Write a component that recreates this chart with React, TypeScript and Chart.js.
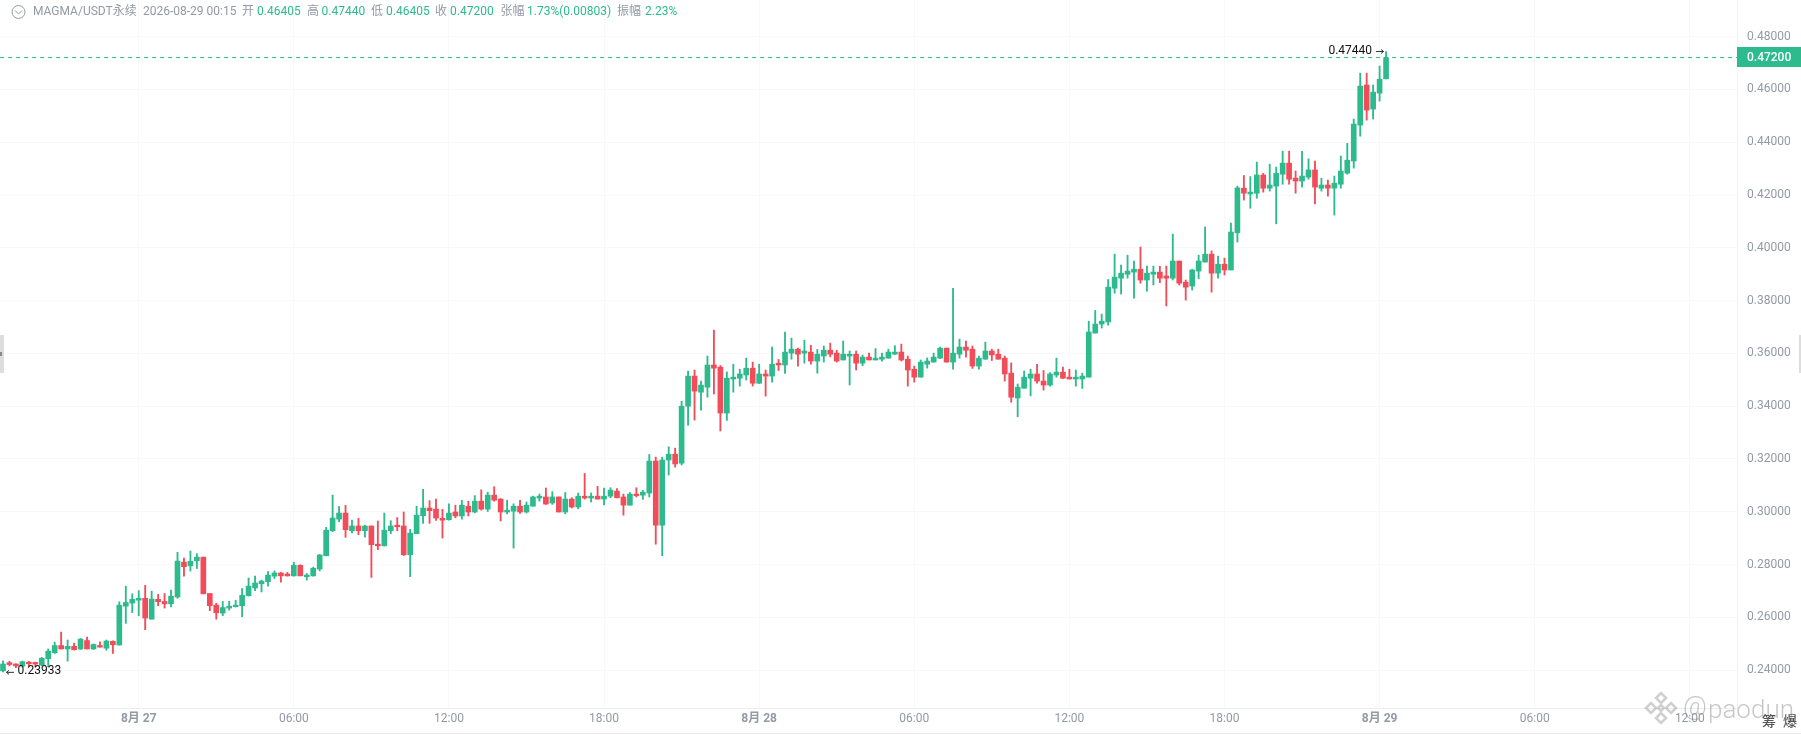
import React, { useEffect, useRef } from "react";
import { Chart, registerables } from "chart.js";

Chart.register(...registerables);

const opens = [
  0.2397,0.2428,0.2423,0.2415,0.2430,0.2429,0.2419,0.2443,0.2466,0.2493,
  0.2480,0.2490,0.2480,0.2512,0.2480,0.2493,0.2483,0.2509,0.2495,0.2642,
  0.2654,0.2665,0.2672,0.2593,0.2668,0.2660,0.2651,0.2677,0.2809,0.2795,
  0.2814,0.2828,0.2690,0.2646,0.2616,0.2635,0.2640,0.2644,0.2682,0.2711,
  0.2727,0.2735,0.2756,0.2768,0.2764,0.2757,0.2797,0.2754,0.2757,0.2783,
  0.2833,0.2928,0.2972,0.2995,0.2928,0.2946,0.2928,0.2946,0.2877,0.2871,
  0.2928,0.2949,0.2946,0.2837,0.2917,0.2985,0.3014,0.3010,0.2975,0.2970,
  0.2999,0.2984,0.3021,0.2999,0.3040,0.3010,0.3063,0.3048,0.2999,0.3002,
  0.3021,0.2999,0.3021,0.3052,0.3056,0.3033,0.3056,0.2999,0.3048,0.3018,
  0.3059,0.3052,0.3059,0.3048,0.3059,0.3078,0.3056,0.3025,0.3067,0.3063,
  0.3071,0.3192,0.2949,0.3196,0.3218,0.3184,0.3400,0.3514,0.3453,0.3472,
  0.3556,0.3548,0.3374,0.3503,0.3506,0.3518,0.3544,0.3487,0.3522,0.3514,
  0.3563,0.3556,0.3601,0.3616,0.3601,0.3605,0.3571,0.3590,0.3612,0.3601,
  0.3575,0.3590,0.3597,0.3563,0.3586,0.3575,0.3578,0.3582,0.3597,0.3605,
  0.3578,0.3540,0.3510,0.3559,0.3567,0.3582,0.3620,0.3567,0.3597,0.3624,
  0.3616,0.3552,0.3578,0.3609,0.3597,0.3582,0.3525,0.3431,0.3468,0.3506,
  0.3522,0.3495,0.3480,0.3518,0.3529,0.3510,0.3503,0.3503,0.3510,0.3677,
  0.3711,0.3719,0.3847,0.3885,0.3900,0.3908,0.3919,0.3878,0.3900,0.3908,
  0.3893,0.3885,0.3950,0.3870,0.3855,0.3912,0.3946,0.3976,0.3904,0.3938,
  0.3916,0.4057,0.4226,0.4204,0.4207,0.4276,0.4226,0.4234,0.4279,0.4321,
  0.4264,0.4253,0.4268,0.4295,0.4226,0.4238,0.4226,0.4241,0.4283,0.4329,
  0.4465,0.4617,0.4526,0.4586,0.46405,
];

const highs = [
  0.2435,0.2433,0.2424,0.2434,0.2433,0.2430,0.2448,0.2480,0.2506,0.2544,
  0.2514,0.2502,0.2520,0.2525,0.2499,0.2507,0.2514,0.2511,0.2659,0.2718,
  0.2689,0.2701,0.2721,0.2699,0.2687,0.2690,0.2703,0.2846,0.2824,0.2851,
  0.2841,0.2828,0.2690,0.2653,0.2660,0.2661,0.2664,0.2709,0.2749,0.2756,
  0.2741,0.2773,0.2776,0.2770,0.2770,0.2809,0.2799,0.2766,0.2790,0.2838,
  0.2941,0.3063,0.3020,0.3024,0.2968,0.2975,0.2949,0.2946,0.2965,0.2995,
  0.2966,0.2978,0.2999,0.2933,0.3021,0.3085,0.3042,0.3048,0.3009,0.3030,
  0.3025,0.3043,0.3040,0.3061,0.3083,0.3074,0.3095,0.3050,0.3044,0.3030,
  0.3043,0.3037,0.3059,0.3067,0.3090,0.3076,0.3056,0.3073,0.3053,0.3071,
  0.3145,0.3071,0.3096,0.3090,0.3091,0.3088,0.3067,0.3073,0.3091,0.3081,
  0.3217,0.3207,0.3207,0.3246,0.3241,0.3419,0.3533,0.3537,0.3495,0.3590,
  0.3688,0.3554,0.3530,0.3559,0.3540,0.3582,0.3567,0.3559,0.3537,0.3624,
  0.3577,0.3681,0.3658,0.3620,0.3650,0.3631,0.3615,0.3628,0.3639,0.3612,
  0.3647,0.3609,0.3609,0.3594,0.3601,0.3618,0.3601,0.3616,0.3629,0.3635,
  0.3590,0.3552,0.3575,0.3583,0.3601,0.3624,0.3620,0.3847,0.3654,0.3647,
  0.3628,0.3590,0.3643,0.3616,0.3616,0.3590,0.3564,0.3484,0.3533,0.3540,
  0.3559,0.3535,0.3527,0.3582,0.3548,0.3540,0.3537,0.3525,0.3722,0.3763,
  0.3749,0.3880,0.3976,0.3935,0.3972,0.3950,0.4003,0.3931,0.3931,0.3930,
  0.3931,0.4052,0.3950,0.3878,0.3919,0.3972,0.4079,0.3988,0.3969,0.3961,
  0.4094,0.4234,0.4274,0.4270,0.4325,0.4282,0.4317,0.4306,0.4366,0.4366,
  0.4291,0.4366,0.4337,0.4329,0.4264,0.4257,0.4272,0.4348,0.4396,0.4488,
  0.4662,0.4662,0.4617,0.4689,0.4744,
];

const lows = [
  0.23933,0.2416,0.2409,0.2411,0.2413,0.2413,0.2416,0.2413,0.2463,0.2480,
  0.2434,0.2476,0.2478,0.2480,0.2478,0.2487,0.2475,0.2463,0.2495,0.2577,
  0.2618,0.2606,0.2553,0.2593,0.2644,0.2635,0.2639,0.2672,0.2756,0.2775,
  0.2785,0.2689,0.2625,0.2593,0.2606,0.2627,0.2639,0.2602,0.2680,0.2701,
  0.2696,0.2718,0.2747,0.2733,0.2756,0.2756,0.2757,0.2741,0.2756,0.2776,
  0.2833,0.2925,0.2962,0.2903,0.2920,0.2913,0.2904,0.2751,0.2856,0.2870,
  0.2917,0.2928,0.2834,0.2754,0.2917,0.2956,0.2956,0.2967,0.2900,0.2968,
  0.2977,0.2972,0.2984,0.2996,0.3006,0.3001,0.3040,0.2965,0.2992,0.2862,
  0.2994,0.2995,0.3021,0.3040,0.3028,0.3028,0.2999,0.2992,0.3014,0.3011,
  0.3048,0.3037,0.3048,0.3026,0.3053,0.3052,0.2987,0.3025,0.3056,0.3047,
  0.3056,0.2877,0.2833,0.3139,0.3169,0.3177,0.3328,0.3347,0.3385,0.3434,
  0.3446,0.3306,0.3346,0.3453,0.3476,0.3499,0.3476,0.3486,0.3438,0.3491,
  0.3535,0.3524,0.3578,0.3552,0.3563,0.3559,0.3525,0.3567,0.3587,0.3567,
  0.3575,0.3480,0.3537,0.3553,0.3575,0.3575,0.3571,0.3582,0.3596,0.3571,
  0.3476,0.3491,0.3510,0.3544,0.3567,0.3580,0.3567,0.3540,0.3582,0.3586,
  0.3543,0.3540,0.3578,0.3573,0.3578,0.3495,0.3415,0.3360,0.3468,0.3439,
  0.3487,0.3461,0.3476,0.3510,0.3505,0.3503,0.3476,0.3467,0.3510,0.3677,
  0.3696,0.3707,0.3828,0.3825,0.3885,0.3809,0.3866,0.3836,0.3859,0.3868,
  0.3780,0.3878,0.3859,0.3802,0.3840,0.3883,0.3946,0.3832,0.3885,0.3897,
  0.3916,0.4022,0.4181,0.4150,0.4188,0.4211,0.4215,0.4091,0.4241,0.4241,
  0.4207,0.4230,0.4260,0.4166,0.4215,0.4196,0.4124,0.4226,0.4279,0.4302,
  0.4423,0.4484,0.4488,0.4556,0.46405,
];

const closes = [
  0.2423,0.2421,0.2416,0.2432,0.2424,0.2423,0.2445,0.2472,0.2493,0.2480,
  0.2490,0.2477,0.2517,0.2480,0.2497,0.2487,0.2510,0.2496,0.2646,0.2656,
  0.2668,0.2672,0.2597,0.2669,0.2659,0.2651,0.2680,0.2813,0.2792,0.2812,
  0.2828,0.2689,0.2644,0.2617,0.2637,0.2642,0.2646,0.2683,0.2718,0.2730,
  0.2737,0.2760,0.2768,0.2757,0.2757,0.2797,0.2757,0.2760,0.2786,0.2836,
  0.2930,0.2976,0.2995,0.2932,0.2946,0.2928,0.2946,0.2875,0.2871,0.2930,
  0.2946,0.2943,0.2837,0.2919,0.2987,0.3014,0.3004,0.2976,0.2968,0.2995,
  0.2984,0.3025,0.2999,0.3040,0.3010,0.3063,0.3044,0.2999,0.3006,0.3021,
  0.2999,0.3025,0.3056,0.3059,0.3029,0.3056,0.2999,0.3048,0.3018,0.3059,
  0.3052,0.3059,0.3048,0.3059,0.3082,0.3053,0.3025,0.3067,0.3061,0.3074,
  0.3192,0.2949,0.3196,0.3218,0.3181,0.3400,0.3514,0.3457,0.3480,0.3556,
  0.3544,0.3374,0.3506,0.3510,0.3522,0.3544,0.3487,0.3522,0.3514,0.3559,
  0.3556,0.3605,0.3616,0.3597,0.3609,0.3571,0.3597,0.3612,0.3597,0.3571,
  0.3597,0.3597,0.3563,0.3586,0.3575,0.3582,0.3586,0.3605,0.3605,0.3575,
  0.3537,0.3510,0.3567,0.3571,0.3586,0.3620,0.3567,0.3601,0.3624,0.3612,
  0.3552,0.3582,0.3609,0.3594,0.3578,0.3522,0.3434,0.3472,0.3510,0.3522,
  0.3495,0.3480,0.3522,0.3529,0.3506,0.3503,0.3510,0.3514,0.3681,0.3711,
  0.3722,0.3851,0.3889,0.3904,0.3912,0.3919,0.3878,0.3904,0.3908,0.3885,
  0.3885,0.3950,0.3866,0.3851,0.3916,0.3950,0.3976,0.3904,0.3938,0.3916,
  0.4060,0.4227,0.4207,0.4211,0.4276,0.4226,0.4238,0.4282,0.4321,0.4260,
  0.4253,0.4272,0.4295,0.4230,0.4238,0.4226,0.4245,0.4291,0.4332,0.4469,
  0.4613,0.4522,0.4590,0.4639,0.472,
];

const xTickIndexes = [21, 45, 69, 93, 117, 141, 165, 189, 213, 237, 261];
const xTickLabels = ["8月 27", "06:00", "12:00", "18:00", "8月 28", "06:00", "12:00", "18:00", "8月 29", "06:00", "12:00"];
const yTicks = [0.24, 0.26, 0.28, 0.3, 0.32, 0.34, 0.36, 0.38, 0.4, 0.42, 0.44, 0.46, 0.48];

const lastPrice = 0.472;
const highPrice = 0.4744;
const lowPrice = 0.23933;

const headerSegments: [string, number, boolean][] = [
  ["MAGMA/USDT永续", 33, false],
  ["2026-08-29 00:15", 143, false],
  ["开", 242, false],
  ["0.46405", 257, true],
  ["高", 307, false],
  ["0.47440", 321.5, true],
  ["低", 371, false],
  ["0.46405", 386, true],
  ["收", 435, false],
  ["0.47200", 450, true],
  ["张幅", 500.5, false],
  ["1.73%(0.00803)", 527, true],
  ["振幅", 617, false],
  ["2.23%", 645, true],
];

const GREEN = "#2dba8d";
const RED = "#f24c5a";
const GRAY = "#929aa5";
const GRID = "#f8f8f9";
const FONT = 'Roboto, "Noto Sans CJK SC", sans-serif';

const overlay = {
  id: "overlay",
  afterDatasetsDraw(chart: any) {
    const { ctx, scales } = chart;
    const right = chart.chartArea.right;
    const yLast = scales.y.getPixelForValue(lastPrice);
    ctx.save();
    ctx.strokeStyle = GREEN;
    ctx.lineWidth = 1;
    ctx.setLineDash([4, 4]);
    ctx.beginPath();
    ctx.moveTo(0, Math.round(yLast) - 0.5);
    ctx.lineTo(right, Math.round(yLast) - 0.5);
    ctx.stroke();
    ctx.setLineDash([]);
    ctx.restore();
  },
  afterDraw(chart: any) {
    const { ctx, scales, width, height } = chart;
    const right = chart.chartArea.right;
    const yLast = scales.y.getPixelForValue(lastPrice);
    ctx.save();

    // price tag
    ctx.fillStyle = GREEN;
    ctx.fillRect(right, Math.round(yLast) - 11, width - right, 20);
    ctx.fillStyle = "#ffffff";
    ctx.font = `500 12px ${FONT}`;
    ctx.textBaseline = "middle";
    ctx.textAlign = "left";
    ctx.fillText(lastPrice.toFixed(5), right + 10, Math.round(yLast) - 0.5);

    // high marker
    const hiX = scales.x.getPixelForValue(highs.length - 1);
    const hiY = scales.y.getPixelForValue(highPrice) - 0.5;
    ctx.fillStyle = "#111111";
    ctx.font = `12px ${FONT}`;
    ctx.textAlign = "right";
    ctx.fillText(highPrice.toFixed(5), hiX - 14, hiY);
    ctx.strokeStyle = "#333333";
    ctx.lineWidth = 1;
    ctx.beginPath();
    ctx.moveTo(hiX - 10, hiY + 0.5);
    ctx.lineTo(hiX - 2.5, hiY + 0.5);
    ctx.moveTo(hiX - 5, hiY - 1.5);
    ctx.lineTo(hiX - 2.5, hiY + 0.5);
    ctx.lineTo(hiX - 5, hiY + 2.5);
    ctx.stroke();

    // low marker
    const loX = scales.x.getPixelForValue(0);
    const loY = scales.y.getPixelForValue(lowPrice);
    ctx.textAlign = "left";
    ctx.fillText(lowPrice.toFixed(5), loX + 14.5, loY - 1);
    ctx.beginPath();
    ctx.moveTo(loX + 11, loY + 0.5);
    ctx.lineTo(loX + 3.5, loY + 0.5);
    ctx.moveTo(loX + 6, loY - 1.5);
    ctx.lineTo(loX + 3.5, loY + 0.5);
    ctx.lineTo(loX + 6, loY + 2.5);
    ctx.stroke();

    // header
    ctx.font = `12px ${FONT}`;
    ctx.textBaseline = "middle";
    ctx.textAlign = "left";
    for (const [text, x, up] of headerSegments) {
      ctx.fillStyle = up ? GREEN : GRAY;
      ctx.fillText(text, x, 12);
    }
    ctx.strokeStyle = GRAY;
    ctx.lineWidth = 1;
    ctx.beginPath();
    ctx.arc(18.5, 12, 6.5, 0, Math.PI * 2);
    ctx.moveTo(15, 10.5);
    ctx.lineTo(18.5, 14);
    ctx.lineTo(22, 10.5);
    ctx.stroke();

    // side handles
    ctx.fillStyle = "#dddddd";
    ctx.fillRect(0, 335, 4, 38);
    ctx.fillRect(width - 2, 335, 2, 38);
    ctx.fillStyle = "#8a8a8a";
    ctx.fillRect(0, 352, 2, 4);

    // bottom rule
    ctx.fillStyle = "#ececec";
    ctx.fillRect(0, height - 1, width, 1);

    // watermark logo
    ctx.strokeStyle = "rgba(150,150,150,0.45)";
    ctx.lineWidth = 2.5;
    const cx = 1661;
    const cy = 708;
    const diamond = (dx: number, dy: number, r: number) => {
      ctx.moveTo(cx + dx - r, cy + dy);
      ctx.lineTo(cx + dx, cy + dy - r);
      ctx.lineTo(cx + dx + r, cy + dy);
      ctx.lineTo(cx + dx, cy + dy + r);
      ctx.closePath();
    };
    ctx.beginPath();
    diamond(0, -10, 5);
    diamond(0, 10, 5);
    diamond(-10, 0, 5);
    diamond(10, 0, 5);
    diamond(0, 0, 3);
    ctx.stroke();

    // watermark text
    ctx.fillStyle = "rgba(130,130,130,0.45)";
    ctx.font = `300 26px ${FONT}`;
    ctx.textBaseline = "middle";
    ctx.fillText("@", 1683, 708);
    ctx.fillText("paodun", 1708, 711);
    ctx.fillStyle = "#555555";
    ctx.font = `500 14px ${FONT}`;
    ctx.fillText("筹", 1762, 722);
    ctx.fillText("爆", 1783, 722);

    ctx.restore();
  },
};

export default function App() {
  const ref = useRef<HTMLCanvasElement | null>(null);

  useEffect(() => {
    document.body.style.margin = "0";
    document.body.style.background = "#ffffff";
    const colors = closes.map((c, i) => (c >= opens[i] ? GREEN : RED));
    const chart = new Chart(ref.current as HTMLCanvasElement, {
      type: "bar",
      data: {
        datasets: [
          {
            label: "wick",
            data: lows.map((l, i) => ({ x: i, y: [l, highs[i]] })) as any,
            backgroundColor: colors,
            barThickness: 1.2,
            grouped: false,
            order: 2,
          },
          {
            label: "body",
            data: opens.map((o, i) => ({ x: i, y: [o, closes[i]] })) as any,
            backgroundColor: colors,
            barThickness: 5,
            grouped: false,
            order: 1,
          },
        ],
      },
      options: {
        animation: false,
        responsive: false,
        maintainAspectRatio: false,
        devicePixelRatio: 1,
        layout: { padding: 0 },
        plugins: { legend: { display: false }, tooltip: { enabled: false } },
        scales: {
          x: {
            type: "linear",
            min: -0.464,
            max: 268.3,
            offset: false,
            afterFit(scale: any) {
              scale.height = 26;
              scale.paddingLeft = 0;
              scale.paddingRight = 0;
              scale.paddingTop = 0;
              scale.paddingBottom = 0;
            },
            afterBuildTicks(scale: any) {
              scale.ticks = xTickIndexes.map((value) => ({ value }));
            },
            grid: { color: GRID, drawTicks: false, offset: false },
            border: { display: true, color: "#ededed" },
            ticks: {
              autoSkip: false,
              maxRotation: 0,
              padding: 4,
              color: GRAY,
              font: (ctx: any) => ({
                family: FONT,
                size: 12,
                weight: xTickLabels[xTickIndexes.indexOf(ctx.tick?.value)]?.includes("月") ? "bold" : "normal",
              }),
              callback: (value: any) => xTickLabels[xTickIndexes.indexOf(value)] ?? "",
            },
          },
          y: {
            type: "linear",
            position: "right",
            min: 0.22563,
            max: 0.49391,
            afterFit(scale: any) {
              scale.width = 64;
              scale.paddingLeft = 0;
              scale.paddingRight = 0;
              scale.paddingTop = 0;
              scale.paddingBottom = 0;
            },
            afterBuildTicks(scale: any) {
              scale.ticks = yTicks.map((value) => ({ value }));
            },
            grid: { color: GRID, drawTicks: false },
            border: { display: true, color: "#f2f2f2" },
            ticks: {
              padding: 10,
              color: GRAY,
              font: { family: FONT, size: 12 },
              callback: (value: any) => Number(value).toFixed(5),
            },
          },
        },
      } as any,
      plugins: [overlay as any],
    });
    return () => chart.destroy();
  }, []);

  return <canvas ref={ref} width={1801} height={734} style={{ display: "block", width: 1801, height: 734 }} />;
}
